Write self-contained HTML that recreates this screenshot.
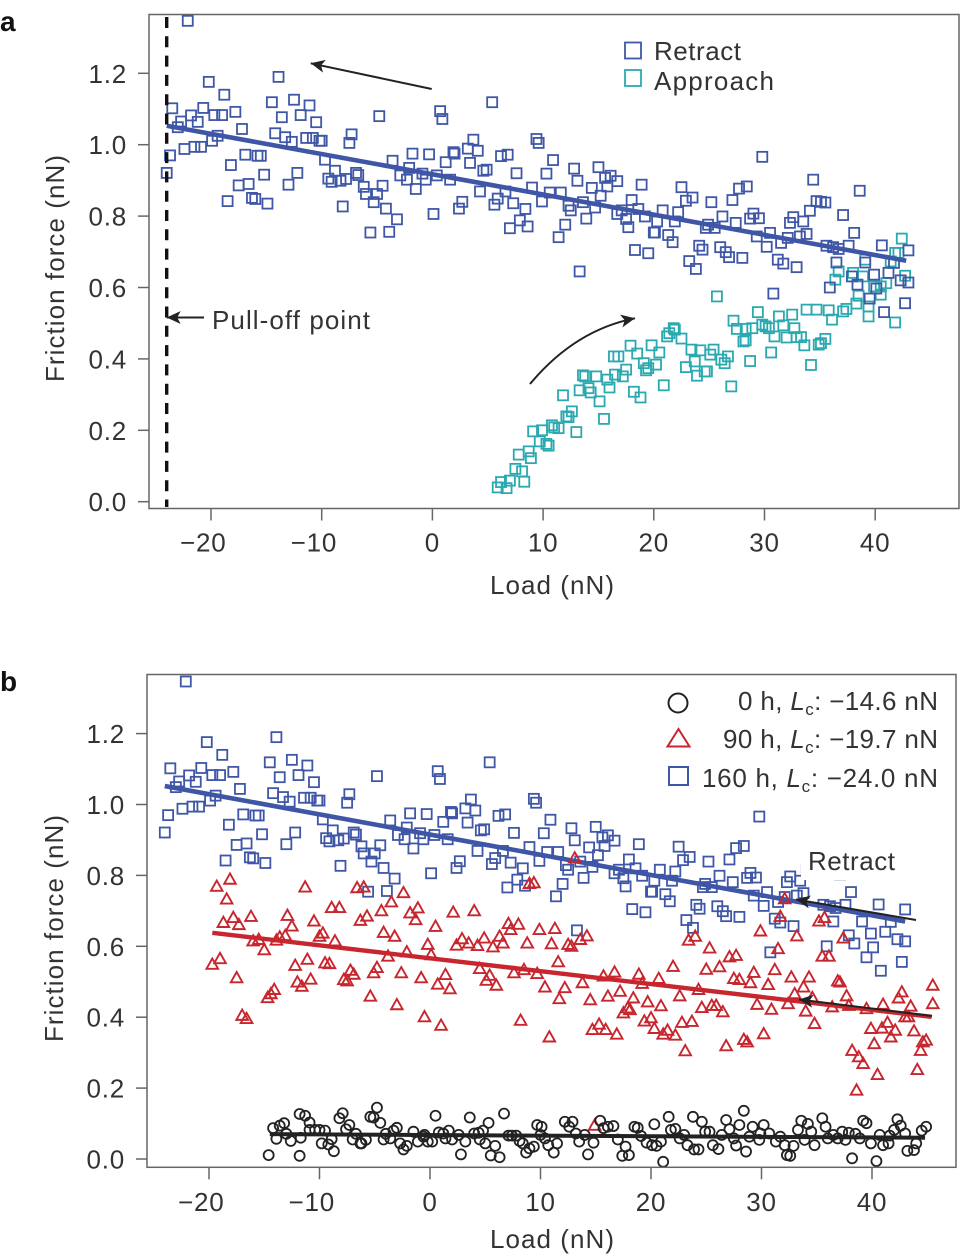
<!DOCTYPE html>
<html lang="en">
<head>
<meta charset="utf-8">
<title>Friction force vs load</title>
<style>
html,body{margin:0;padding:0;background:#fff;}
svg{display:block;}
text{font-family:"Liberation Sans",sans-serif;fill:#333;}
</style>
</head>
<body>
<svg id="chart" xmlns="http://www.w3.org/2000/svg" width="960" height="1256" viewBox="0 0 960 1256">
<defs>
<marker id="head" markerUnits="userSpaceOnUse" markerWidth="16" markerHeight="14" refX="14" refY="6.5" orient="auto">
<path d="M14,6.5 L0,0 L3.5,6.5 L0,13 Z" fill="#222"/>
</marker>
</defs>
<rect width="960" height="1256" fill="#fff"/>

<g id="panelA">
<text x="0" y="31" font-size="28" font-weight="bold" style="fill:#111">a</text>
<g id="plotA"></g>
<rect x="149" y="14.5" width="810" height="494" fill="none" stroke="#666" stroke-width="1.5"/>
<line x1="166.7" y1="17" x2="166.7" y2="507" stroke="#111" stroke-width="3.4" stroke-dasharray="11 8.3"/>
<line x1="431.7" y1="89" x2="310.7" y2="63.3" stroke="#222" stroke-width="2" marker-end="url(#head)"/>
<path d="M530 384 Q575 330 635 318.3" fill="none" stroke="#222" stroke-width="2" marker-end="url(#head)"/>
<line x1="204" y1="317.5" x2="166.7" y2="317.5" stroke="#222" stroke-width="2" marker-end="url(#head)"/>
<text x="212" y="329" font-size="26" textLength="158">Pull-off point</text>
<text x="490" y="594" font-size="26" textLength="124">Load (nN)</text>
<text transform="translate(64,382) rotate(-90)" x="0" y="0" font-size="26" textLength="227">Friction force (nN)</text>
<rect x="625" y="42.5" width="16" height="16" fill="none" stroke="#3f57a6" stroke-width="1.8"/>
<text x="654" y="60" font-size="26" textLength="87">Retract</text>
<rect x="625" y="70" width="16" height="16" fill="none" stroke="#2ba9b0" stroke-width="1.8"/>
<text x="654" y="90" font-size="26" textLength="120">Approach</text>
</g>

<g id="panelB">
<text x="0" y="691" font-size="28" font-weight="bold" style="fill:#111">b</text>
<g id="plotB"></g>
<rect x="147" y="674.5" width="809" height="492.8" fill="none" stroke="#666" stroke-width="1.5"/>
<rect x="801" y="830" width="99" height="50" fill="#fff"/>
<line x1="916" y1="920" x2="796" y2="899.5" stroke="#222" stroke-width="2" marker-end="url(#head)"/>
<line x1="932" y1="1016" x2="799" y2="999.5" stroke="#222" stroke-width="2" marker-end="url(#head)"/>
<text x="808" y="870" font-size="26" textLength="87">Retract</text>
<text x="490" y="1248" font-size="26" textLength="124">Load (nN)</text>
<text transform="translate(63,1042) rotate(-90)" x="0" y="0" font-size="26" textLength="227">Friction force (nN)</text>
<circle cx="678" cy="703" r="9.5" fill="none" stroke="#222" stroke-width="2"/>
<text x="738" y="710" font-size="26" textLength="200">0 h, <tspan font-style="italic">L</tspan><tspan font-size="17" dy="5">c</tspan><tspan dy="-5">: −14.6 nN</tspan></text>
<polygon points="678.5,729 667.5,746.5 689.5,746.5" fill="none" stroke="#c8262e" stroke-width="2"/>
<text x="723" y="748" font-size="26" textLength="215">90 h, <tspan font-style="italic">L</tspan><tspan font-size="17" dy="5">c</tspan><tspan dy="-5">: −19.7 nN</tspan></text>
<rect x="669" y="767" width="19" height="18" fill="none" stroke="#3f57a6" stroke-width="2"/>
<text x="702" y="787" font-size="26" textLength="236">160 h, <tspan font-style="italic">L</tspan><tspan font-size="17" dy="5">c</tspan><tspan dy="-5">: −24.0 nN</tspan></text>
</g>
</svg>
<script>
const xTickValues = [-20,-10,0,10,20,30,40];
const yTickValues = [0,0.2,0.4,0.6,0.8,1.0,1.2];

const retractLoad = [-22.1,-13.9,-20.2,-18.8,-23.5,-20.7,-14.5,-12.5,-11.1,-4.8,0.7,0.9,5.4,
-21.8,-22.7,-21.2,-19.7,-19.0,-17.8,-13.6,-11.9,-10.5,-23.0,-17.2,-14.2,-13.3,-12.7,-11.4,-10.8,-10.2,-10.0,-7.3,-7.5,-19.4,-19.9,-22.4,-21.5,-20.9,-23.7,-24.0,-16.9,-15.8,-15.5,-18.2,-15.2,-12.2,-13.0,-17.5,-16.6,-18.5,-16.3,-16.0,-14.9,-9.7,-8.8,-9.4,-9.1,-8.3,-7.8,-6.9,-6.7,-6.2,-6.0,-5.0,-4.5,-5.3,-4.2,-3.2,-8.1,-5.6,-3.9,-3.6,-1.8,-0.3,-2.9,-2.1,-2.3,-0.9,-1.5,-0.6,0.4,1.6,0.1,1.2,1.9,2.0,3.2,3.7,4.1,3.4,4.6,4.9,6.2,6.8,7.6,4.3,2.7,2.4,5.6,5.9,6.6,7.3,8.4,7.9,7.0,8.6,9.0,9.4,9.6,9.9,
10.9,10.3,12.8,13.1,15.0,15.6,16.1,16.7,15.8,14.4,15.2,18.9,22.5,23.5,22.9,25.2,27.1,27.7,28.4,29.8,34.4,38.6,10.6,11.6,13.6,12.3,12.5,14.7,13.9,12.0,11.4,18.0,17.1,16.7,17.5,18.6,19.2,17.7,20.8,22.2,20.3,21.9,20.0,20.1,21.3,21.7,18.3,19.5,13.3,24.1,24.4,23.2,23.8,24.9,24.7,25.5,26.2,27.4,26.0,26.5,26.8,28.0,29.0,28.7,29.5,32.3,32.6,33.5,34.1,34.7,35.1,35.5,37.1,38.1,29.3,30.5,30.2,31.5,32.1,33.2,33.8,31.2,31.7,32.9,35.6,36.2,36.7,37.6,36.5,39.1,40.6,41.7,43.0,37.9,38.4,35.9,39.9,41.2,42.3,43.0,40.1,39.5,40.8,42.7,30.8];
const retractFriction = [1.347,1.190,1.176,1.140,1.102,1.103,1.119,1.126,1.110,1.080,1.094,1.072,1.119,
1.082,1.065,1.064,1.083,1.083,1.092,1.077,1.083,1.063,1.049,1.044,1.032,1.021,1.008,1.019,1.019,1.011,1.011,1.029,1.005,1.025,1.011,.988,.994,.994,.970,.921,.972,.969,.969,.943,.916,.921,.888,.886,.890,.842,.851,.848,.835,.958,.927,.905,.896,.899,.904,.921,.915,.882,.862,.862,.885,.839,.821,.791,.827,.754,.756,.955,.975,.973,.914,.935,.902,.919,.876,.902,.914,.902,.806,.951,.979,.975,.989,1.014,.983,.949,.927,.930,.968,.972,.920,.869,.840,.821,.832,.849,.869,.836,.820,.788,.766,.771,.880,1.016,1.005,.841,
.957,.919,.933,.899,.937,.907,.913,.898,.883,.879,.857,.888,.881,.852,.843,.839,.845,.877,.883,.966,.902,.871,.866,.866,.839,.829,.816,.824,.793,.776,.741,.845,.816,.806,.792,.820,.799,.769,.816,.811,.785,.785,.754,.754,.747,.727,.705,.696,.645,.717,.706,.674,.652,.776,.767,.767,.799,.781,.713,.699,.685,.683,.807,.793,.794,.781,.797,.785,.815,.842,.840,.838,.803,.753,.743,.753,.714,.725,.739,.743,.750,.678,.667,.657,.717,.713,.708,.717,.670,.670,.718,.669,.704,.631,.608,.600,.636,.641,.620,.614,.597,.569,.531,.556,.583];

const approachLoad = [5.9,6.2,6.7,7.0,7.5,8.1,8.3,7.8,8.7,8.9,9.1,9.9,9.7,10.3,10.5,10.8,11.0,11.4,13.0,12.1,12.3,12.6,11.8,13.3,14.1,14.3,13.6,13.8,14.8,15.1,15.5,15.8,16.0,16.4,16.8,16.5,17.2,17.5,17.9,18.5,18.2,18.8,19.1,19.3,19.5,19.8,20.5,20.2,20.9,21.2,21.4,21.8,21.9,22.5,23.4,22.9,23.7,24.2,23.9,24.6,24.8,25.1,25.4,26.1,26.4,26.7,27.0,27.2,27.5,28.1,28.3,28.3,28.9,28.7,29.4,29.8,30.1,30.4,30.6,30.9,31.3,25.7,
32.5,31.7,32.7,32.0,32.9,33.3,33.6,34.2,34.9,35.1,35.5,33.8,34.7,35.8,36.1,37.1,37.4,38.3,38.5,39.4,39.4,40.5,41.8,41.0,39.9,40.5,36.4,36.7,38.0,38.9,39.1,42.4,41.8,42.1,42.7,41.4];
const approachFriction = [.040,.055,.038,.059,.092,.085,.056,.132,.141,.122,.197,.200,.169,.162,.157,.214,.208,.206,.195,.239,.237,.253,.298,.312,.318,.306,.354,.351,.351,.281,.232,.342,.320,.407,.407,.356,.351,.370,.437,.415,.308,.292,.388,.368,.374,.438,.418,.384,.326,.463,.472,.486,.482,.457,.426,.377,.393,.424,.353,.365,.365,.412,.426,.398,.388,.407,.323,.507,.484,.449,.452,.484,.486,.394,.531,.496,.491,.486,.418,.463,.519,.575,
.524,.494,.486,.460,.461,.461,.438,.383,.440,.444,.456,.538,.538,.536,.510,.533,.540,.555,.577,.519,.547,.580,.502,.612,.603,.603,.622,.645,.641,.631,.678,.737,.697,.697,.633,.673];

const hours90Load = [-18.1,-19.3,-18.4,-11.3,-6.6,-6.0,-2.4,-3.5,-5.7,-4.4,-6.3,-8.9,-8.2,-1.8,-1.1,-1.3,2.1,4.0,0.5,-18.7,-17.8,-17.3,-16.2,-12.9,-12.5,-10.5,-9.7,-10.0,-8.6,-4.2,-3.2,-0.2,0.1,-2.1,-3.8,7.1,8.0,7.3,6.3,6.6,4.9,5.7,8.8,4.3,3.5,2.9,2.4,-13.1,-13.6,-13.9,-15.5,-16.0,-15.0,9.0,9.4,9.9,
-19.7,-19.0,-17.5,-12.2,-11.1,-9.5,-9.1,-10.8,-12.0,-11.6,-14.1,-14.4,-14.7,-17.0,-16.6,-7.2,-6.9,-7.8,-7.5,-4.8,-5.1,-2.6,-0.8,1.4,0.7,1.8,-5.4,-3.0,-0.5,1.0,4.5,5.4,5.1,6.0,7.6,8.5,9.7,10.4,8.2,10.8,11.7,
11.6,12.2,13.8,14.5,15.7,16.7,16.1,17.2,18.4,18.9,19.2,19.7,20.7,20.9,22.0,22.6,24.3,24.6,25.5,25.9,26.5,25.0,26.2,27.5,28.0,29.0,29.3,31.2,30.6,32.7,34.3,33.8,33.0,32.4,29.6,30.9,34.0,34.6,34.8,36.4,36.9,37.1,37.7,37.9,39.5,41.0,42.7,42.4,43.5,45.5,45.5,43.0,43.3,17.5,17.9,18.1,19.4,20.0,20.3,21.1,21.5,22.2,22.8,23.7,14.7,15.3,15.9,16.9,23.1,26.8,28.4,28.7,30.2,39.9,40.9,41.4,42.1,41.7,40.2,43.8,44.9,44.6,44.4,44.1,38.2,38.8,39.2,40.5,38.6,14.9,
13.1,32.1,31.7,29.9,33.2,35.2,35.7,37.4,23.4,24.0,25.3,27.1,27.7,31.5,35.5,36.1,11.3,11.0,12.5,12.8,13.6,14.2];
const hours90Friction = [.790,.770,.734,.768,.766,.768,.752,.726,.686,.701,.674,.710,.710,.695,.709,.676,.697,.701,.657,.668,.682,.662,.685,.688,.658,.672,.638,.629,.616,.640,.629,.606,.577,.585,.573,.665,.663,.648,.629,.610,.624,.599,.610,.603,.610,.622,.604,.631,.627,.618,.620,.616,.591,.778,.780,.648,
.550,.566,.512,.547,.564,.554,.552,.508,.500,.488,.479,.467,.456,.406,.397,.533,.522,.507,.503,.541,.526,.526,.512,.521,.494,.481,.460,.436,.402,.378,.538,.519,.505,.491,.526,.535,.524,.486,.392,.345,.453,
.557,.484,.498,.450,.517,.528,.460,.474,.455,.522,.496,.444,.510,.433,.544,.461,.479,.428,.434,.434,.416,.536,.543,.510,.507,.498,.527,.535,.493,.514,.514,.486,.467,.439,.437,.423,.418,.456,.383,.430,.503,.500,.461,.434,.425,.437,.472,.455,.432,.491,.439,.402,.402,.413,.427,.422,.390,.399,.369,.353,.364,.350,.386,.389,.366,.381,.366,.353,.306,.320,.338,.331,.354,.369,.370,.386,.364,.345,.326,.362,.336,.331,.307,.253,.307,.289,.270,.239,.195,.096,
.850,.735,.685,.644,.630,.672,.682,.624,.618,.629,.596,.571,.575,.594,.573,.573,.651,.608,.606,.601,.620,.630];

const hours0Load = [-14.6,-11.8,-8.7,-9.8,-9.2,-8.9,-12.6,-13.9,-11.7,-13.0,-14.2,-13.6,-13.2,-11.8,-11.3,-10.9,-10.9,-10.4,-10.0,-9.5,-7.9,-8.2,-7.3,-7.6,-6.7,-7.0,-6.3,-5.8,-6.2,-5.4,-5.1,-4.8,-4.5,-4.0,-4.2,-3.6,-3.0,-3.3,-2.7,-2.1,-2.4,-1.5,-1.1,-0.6,-0.2,0.2,-0.5,0.5,0.8,1.2,1.4,2.0,1.7,2.6,3.2,3.6,4.0,4.4,4.5,4.8,5.3,5.0,5.9,5.5,6.3,2.8,6.7,7.1,7.4,7.8,8.1,8.4,8.7,9.0,9.4,9.7,10.1,10.4,10.7,11.2,11.5,
10.0,12.2,12.9,12.6,13.2,13.5,14.0,14.3,14.8,15.4,15.7,16.1,16.6,17.0,17.7,17.4,18.0,18.5,18.8,19.1,19.6,20.1,20.5,20.9,21.1,21.6,20.3,21.8,22.2,22.6,23.0,23.3,23.8,23.9,24.3,24.6,24.9,25.3,25.6,26.1,26.4,26.8,27.1,27.5,27.7,28.0,28.4,28.6,29.2,28.9,29.8,29.9,30.2,30.7,31.3,31.7,32.1,32.3,32.6,32.9,33.3,33.6,33.9,34.2,34.5,34.8,35.5,35.8,36.0,36.5,36.9,37.3,37.6,37.9,38.5,38.9,38.2,39.2,39.5,39.9,40.4,40.7,41.0,41.5,41.6,42.0,42.3,42.6,43.0,43.2,43.8,44.0,44.5,44.9];
const hours0Friction = [.011,.009,.022,.044,.041,.056,.051,.057,.060,.071,.087,.094,.101,.127,.122,.103,.082,.082,.082,.080,.129,.115,.096,.084,.071,.055,.044,.054,.044,.119,.117,.145,.102,.071,.055,.058,.088,.080,.044,.037,.027,.077,.049,.063,.049,.049,.068,.122,.075,.072,.058,.055,.080,.068,.049,.117,.072,.074,.055,.080,.102,.044,.037,.010,.005,.013,.128,.066,.066,.066,.051,.044,.018,.030,.035,.096,.091,.058,.039,.018,.044,
.068,.105,.105,.091,.072,.049,.068,.013,.046,.108,.087,.091,.093,.055,.035,.009,.011,.091,.088,.065,.046,.039,.037,.049,-.008,.119,.098,.082,.085,.058,.068,.039,.119,.027,.027,.105,.077,.077,.039,.028,.068,.110,.084,.058,.038,.096,.136,.021,.091,.063,.054,.072,.096,.072,.049,.063,.039,.011,.009,.037,.082,.108,.054,.099,.077,.039,.115,.091,.058,.068,.058,.077,.054,.074,.071,.058,.002,.108,.101,.044,-.006,.068,.039,.044,.066,.082,.112,.094,.072,.023,.025,.044,.080,.091];

const fitARetractLoad = [-24.0,42.8];
const fitARetractFriction = [1.053,0.675];
const fitBBlueLoad = [-24.0,43.0];
const fitBBlueFriction = [1.052,0.670];
const fitBRedLoad = [-19.7,45.4];
const fitBRedFriction = [0.638,0.401];
const fitBBlackLoad = [-14.5,44.8];
const fitBBlackFriction = [0.070,0.060];

const NS = 'http://www.w3.org/2000/svg';
const BLUE = '#3f57a6', TEAL = '#2ba9b0', RED = '#c8262e', BLACK = '#222';

function xA(v){ return 432.4 + 11.07 * v; }
function yA(v){ return 501.7 - 357 * v; }
function xB(v){ return 430 + 11.05 * v; }
function yB(v){ return 1159 - 354.5 * v; }

function mk(parent, tag, attrs){
  const el = document.createElementNS(NS, tag);
  for (const k in attrs) el.setAttribute(k, attrs[k]);
  parent.appendChild(el);
  return el;
}
function drawSquares(parent, loads, values, sx, sy, color){
  const n = Math.min(loads.length, values.length);
  for (let i = 0; i < n; i++){
    const el = mk(parent, 'rect', {x: sx(loads[i]) - 5, y: sy(values[i]) - 5, width: 10, height: 10, fill: 'none', stroke: color, 'stroke-width': 1.8});
    
    
  }
}
function drawTriangles(parent, loads, values, sx, sy, color){
  const n = Math.min(loads.length, values.length);
  for (let i = 0; i < n; i++){
    const x = sx(loads[i]), y = sy(values[i]);
    const pts = x + ',' + (y - 5.5) + ' ' + (x - 5.8) + ',' + (y + 4.8) + ' ' + (x + 5.8) + ',' + (y + 4.8);
    const el = mk(parent, 'polygon', {points: pts, fill: 'none', stroke: color, 'stroke-width': 1.9});
    
    
  }
}
function drawCircles(parent, loads, values, sx, sy, color){
  const n = Math.min(loads.length, values.length);
  for (let i = 0; i < n; i++){
    const el = mk(parent, 'circle', {cx: sx(loads[i]), cy: sy(values[i]), r: 5, fill: 'none', stroke: color, 'stroke-width': 1.8});
    
    
  }
}
function drawFit(parent, loads, values, sx, sy, color, w){
  const el = mk(parent, 'line', {x1: sx(loads[0]), y1: sy(values[0]), x2: sx(loads[1]), y2: sy(values[1]), stroke: color, 'stroke-width': w});
  
  
}
function drawAxes(parent, sx, sy, bottom, left, xBase){
  xTickValues.forEach(function(v){
    const t = mk(parent, 'line', {x1: sx(v), x2: sx(v), y1: bottom, y2: bottom + 12, stroke: '#666', 'stroke-width': 1.5});
    
    
    const lab = mk(parent, 'text', {x: v < 0 ? sx(v) + 15.5 : sx(v), y: xBase, 'font-size': 26, 'text-anchor': v < 0 ? 'end' : 'middle', 'letter-spacing': 0.8});
    lab.textContent = (v < 0 ? '\u2212' : '') + Math.abs(v);
    
    
  });
  yTickValues.forEach(function(v){
    const t = mk(parent, 'line', {x1: left - 11, x2: left, y1: sy(v), y2: sy(v), stroke: '#666', 'stroke-width': 1.5});
    
    
    const lab = mk(parent, 'text', {x: left - 22, y: sy(v) + 9.5, 'font-size': 26, 'text-anchor': 'end', 'letter-spacing': 0.8});
    lab.textContent = v.toFixed(1);
    
    
  });
}

const plotA = document.getElementById('plotA');
drawAxes(plotA, xA, yA, 508.5, 149, 551.7);
drawSquares(plotA, approachLoad, approachFriction, xA, yA, TEAL);
drawSquares(plotA, retractLoad, retractFriction, xA, yA, BLUE);
drawFit(plotA, fitARetractLoad, fitARetractFriction, xA, yA, '#3f55a5', 4.6);

const plotB = document.getElementById('plotB');
drawAxes(plotB, xB, yB, 1167.3, 147, 1211);
drawSquares(plotB, retractLoad, retractFriction, xB, yB, BLUE);
drawFit(plotB, fitBBlueLoad, fitBBlueFriction, xB, yB, '#3f55a5', 4.6);
drawTriangles(plotB, hours90Load, hours90Friction, xB, yB, RED);
drawFit(plotB, fitBRedLoad, fitBRedFriction, xB, yB, RED, 4.4);
drawCircles(plotB, hours0Load, hours0Friction, xB, yB, BLACK);
drawFit(plotB, fitBBlackLoad, fitBBlackFriction, xB, yB, BLACK, 4);
</script>
</body>
</html>
